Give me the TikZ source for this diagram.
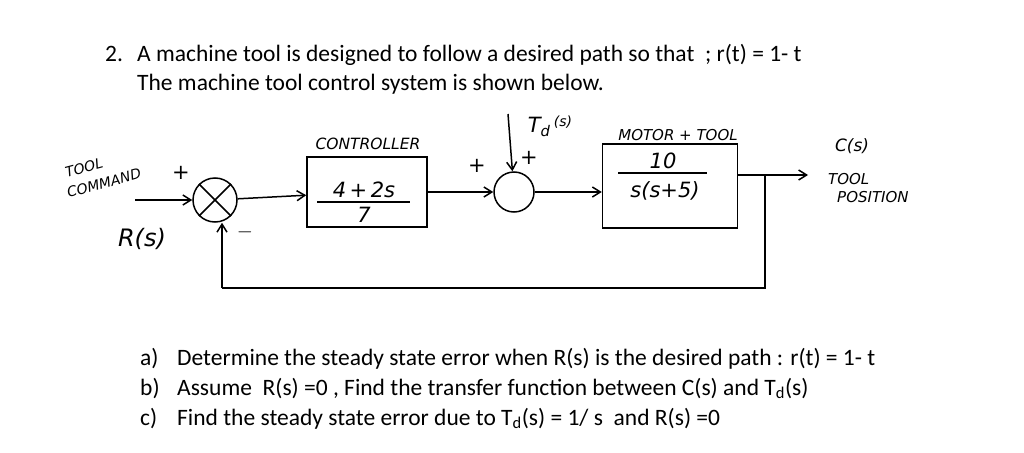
\documentclass[tikz,border=0pt]{standalone}
\usepackage{fontspec}
\setmainfont{Carlito}
\newfontfamily\handfont{DejaVu Sans}
\usetikzlibrary{arrows.meta}
\begin{document}
\begin{tikzpicture}[x=1pt,y=-1pt,
  txt/.style={font=\fontsize{23.5}{28}\selectfont, inner sep=0pt, anchor=base west},
  hand/.style={font=\handfont\fontsize{15}{17}\selectfont\itshape, inner sep=1pt},
  handbig/.style={font=\handfont\fontsize{21}{23}\selectfont\itshape, inner sep=1pt},
  blk/.style={draw, line width=1.5pt, inner sep=0pt},
  sumnode/.style={draw, circle, line width=1.5pt, inner sep=0pt},
  wire/.style={line width=1.5pt},
  conn/.style={line width=1.5pt, -{Straight Barb[length=8pt,width=10pt]}}]
\useasboundingbox (0,0) rectangle (1024,452);
\fill[white] (0,0) rectangle (1024,452);

% header text
\node[txt] (n2) at (105,62) {2.};
\node[txt] (l1) at (137,62) {A machine tool is designed to follow a desired path so that\ \ ; r(t) = 1- t};
\node[txt] (l2) at (137,90) {The machine tool control system is shown below.};

% questions
\node[txt] (qa) at (140,365) {a)};
\node[txt] (ta) at (177,365) {Determine the steady state error when R(s) is the desired path : r(t) = 1- t};
\node[txt] (qb) at (140,395) {b)};
\node[txt] (tb) at (177,395) {Assume\ \ R(s) =0 , Find the transfer function between C(s) and T\textsubscript{d}(s)};
\node[txt] (qc) at (140,425) {c)};
\node[txt] (tc) at (177,425) {Find the steady state error due to T\textsubscript{d}(s) = 1/ s\ \ and R(s) =0};

% block diagram
\node[sumnode, minimum size=44pt] (s1) at (215,200) {};
\draw[wire] (s1.north west) -- (s1.south east);
\draw[wire] (s1.north east) -- (s1.south west);

\node[blk, minimum width=120pt, minimum height=70pt] (ctrl) at (367,192) {};
\coordinate (cl1) at (317,202);
\coordinate (cl2) at (410,202);
\draw[wire] (cl1) -- (cl2);
\node[handbig, anchor=south] (cnum) at (364,199) {4\,+\,2s};
\node[handbig, anchor=north, inner sep=0pt] (cden) at (364,207) {7};
\node[hand, font=\handfont\fontsize{15.5}{17}\selectfont\itshape] (clab) at (368,144) {CONTROLLER};

\node[sumnode, minimum size=40pt] (s2) at (514,192) {};
\node[blk, minimum width=135pt, minimum height=84pt] (mot) at (670,186) {};
\coordinate (ml1) at (618,173);
\coordinate (ml2) at (707,173);
\draw[wire] (ml1) -- (ml2);
\node[handbig, anchor=south] (mnum) at (663,170) {10};
\node[handbig, anchor=north] (mden) at (665,180) {s(s+5)};
\node[hand] (mlab) at (678,135) {MOTOR + TOOL};

\node[hand, rotate=15, font=\handfont\fontsize{14}{16}\selectfont\itshape] (cmd1) at (84,168) {TOOL};
\node[hand, rotate=15, font=\handfont\fontsize{14}{16}\selectfont\itshape] (cmd2) at (104,183) {COMMAND};
\node[handbig, font=\handfont\fontsize{24}{26}\selectfont\itshape] (rs) at (142,239) {R(s)};
\node[handbig] (plus1) at (181,173) {+};
\node[handbig] (minus1) at (245,232) {$-$};
\node[handbig] (plus2) at (477,166) {+};
\node[handbig] (plus3) at (529,158) {+};
\node[handbig] (td) at (550,126) {T\textsubscript{d}\,\raisebox{6pt}{\fontsize{14}{16}\selectfont(s)}};
\node[hand, font=\handfont\fontsize{17}{19}\selectfont\itshape] (cs) at (852,146) {C(s)};
\node[hand, align=left, anchor=north west] (tp) at (827,172) {TOOL\\[1pt]\hspace*{9pt}POSITION};

\coordinate (in) at (135,200);
\coordinate (tdtop) at (508,114);
\coordinate (branch) at (765,175);
\coordinate (out) at (808,175);
\coordinate (fbr) at (765,288);
\coordinate (fbl) at (222,288);

\draw[conn] (in) -- (s1);
\draw[conn] (s1) -- (ctrl);
\draw[conn] (ctrl.east) -- (s2);
\draw[conn] (tdtop) -- (s2);
\draw[conn] (s2) -- (mot.west |- s2);
\draw[conn] (mot.east |- out) -- (out);
\draw[wire] (branch) -- (fbr) -- (fbl);
\draw[conn] (fbl) -- (fbl |- s1.south);
\end{tikzpicture}
\end{document}
